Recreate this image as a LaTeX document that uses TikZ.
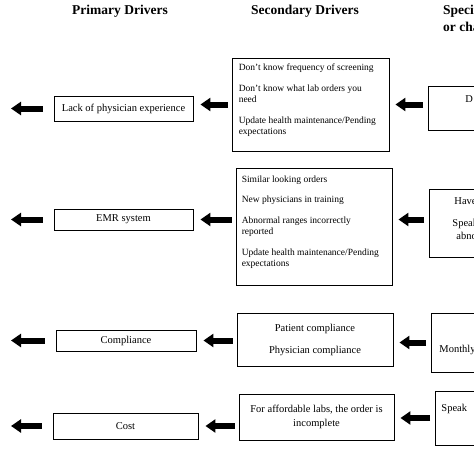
\documentclass[tikz,border=0pt]{standalone}
\usepackage{fontspec}
\setmainfont{Liberation Serif}
\usepackage{tikz}
\usetikzlibrary{arrows.meta}

\tikzset{
	box/.style={draw, line width=0.9pt, inner sep=0pt, font=\fontsize{10.5}{12}\selectfont},
	item/.style={inner sep=0pt, align=left, font=\fontsize{9.5}{11.5}\selectfont},
	head/.style={inner sep=0pt, font=\fontsize{13.5}{16}\selectfont\bfseries},
	bigarrow/.style={line width=6pt, -{Triangle[length=10pt,width=13pt]}}
}

\begin{document}
\begin{tikzpicture}[x=1pt,y=-1pt]
			\useasboundingbox (0,0) rectangle (474,474);
			\fill[white] (0,0) rectangle (474,474);

			\node[head, anchor=base] (hpri) at (120,14.5) {Primary Drivers};
			\node[head, anchor=base] (hsec) at (305,14.5) {Secondary Drivers};
			\node[head, anchor=base west] (hchg) at (443,14.5) {Specific};
			\node[head, anchor=base west] (hchg2) at (443,31) {or change};

			\coordinate (edge) at (11,0);

			\node[box, minimum width=139, minimum height=25] (pri1) at (123.5,108.5) {Lack of physician experience};
			\node[box, minimum width=157, minimum height=93] (sec1) at (310.5,104.5) {};
			\node[item, anchor=north west] (txt1) at ([shift={(7,6.5)}]sec1.north west)
				{Don't know frequency of screening\\[9pt]Don't know what lab orders you\\need\\[9pt]Update health maintenance/Pending\\expectations};
			\node[box, minimum width=90, minimum height=44, anchor=west] (chg1) at (428,108) {};
			\node[box, draw=none, anchor=base west] (c1) at (465,102.5) {D};

			\node[box, minimum width=139, minimum height=21] (pri2) at (123.5,219.5) {EMR system};
			\node[box, minimum width=156, minimum height=117] (sec2) at (314,226.5) {};
			\node[item, anchor=north west] (txt2) at ([shift={(6,8)}]sec2.north west)
				{Similar looking orders\\[9pt]New physicians in training\\[9pt]Abnormal ranges incorrectly\\reported\\[9pt]Update health maintenance/Pending\\expectations};
			\node[box, minimum width=90, minimum height=68, anchor=west] (chg2) at (429,223) {};
			\node[box, draw=none, anchor=base west] (c2a) at (454,204.5) {Have};
			\node[box, draw=none, anchor=base west] (c2b) at (452,226.5) {Speak};
			\node[box, draw=none, anchor=base west] (c2c) at (456,239) {abnormal};

			\node[box, minimum width=140, minimum height=21] (pri3) at (126,340.5) {Compliance};
			\node[box, minimum width=156, minimum height=53, align=center] (sec3) at (315,339.5)
				{\raisebox{3pt}{\parbox{150pt}{\centering Patient compliance\\[10pt]Physician compliance}}};
			\node[box, minimum width=90, minimum height=59, anchor=west] (chg3) at (431,342.5) {};
			\node[box, draw=none, anchor=base west] (c3) at (439,352) {Monthly};

			\node[box, minimum width=145, minimum height=26] (pri4) at (125.5,426) {Cost};
			\node[box, minimum width=155, minimum height=46, align=center] (sec4) at (316.5,417)
				{\raisebox{2pt}{\parbox{150pt}{\centering For affordable labs, the order is\\[2pt]incomplete}}};
			\node[box, minimum width=90, minimum height=54, anchor=west] (chg4) at (435,418) {};
			\node[box, draw=none, anchor=base west] (c4) at (441,411) {Speak};

			\draw[bigarrow, shorten <=11pt] (pri1.west) -- (pri1.west -| edge);
			\draw[bigarrow, shorten <=11pt] (pri2.west) -- (pri2.west -| edge);
			\draw[bigarrow, shorten <=11pt] (pri3.west) -- (pri3.west -| edge);
			\draw[bigarrow, shorten <=11pt] (pri4.west) -- (pri4.west -| edge);

			\draw[bigarrow, shorten <=4pt, shorten >=7pt] (sec1.west) -- (sec1.west -| pri1.east);
			\draw[bigarrow, shorten <=4pt, shorten >=7pt] (sec2.west |- pri2.east) -- (pri2.east);
			\draw[bigarrow, shorten <=4pt, shorten >=7pt] (sec3.west |- pri3.east) -- (pri3.east);
			\draw[bigarrow, shorten <=4pt, shorten >=7pt] (sec4.west |- pri4.east) -- (pri4.east);

			\draw[bigarrow, shorten <=5pt, shorten >=6pt] (chg1.west |- sec1.east) -- (sec1.east);
			\draw[bigarrow, shorten <=5pt, shorten >=6pt] (chg2.west |- pri2.east) -- (chg2.west |- pri2.east -| sec2.east);
			\draw[bigarrow, shorten <=5pt, shorten >=6pt] (chg3.west) -- (chg3.west -| sec3.east);
			\draw[bigarrow, shorten <=5pt, shorten >=6pt] (chg4.west) -- (chg4.west -| sec4.east);
		\end{tikzpicture}
\end{document}
